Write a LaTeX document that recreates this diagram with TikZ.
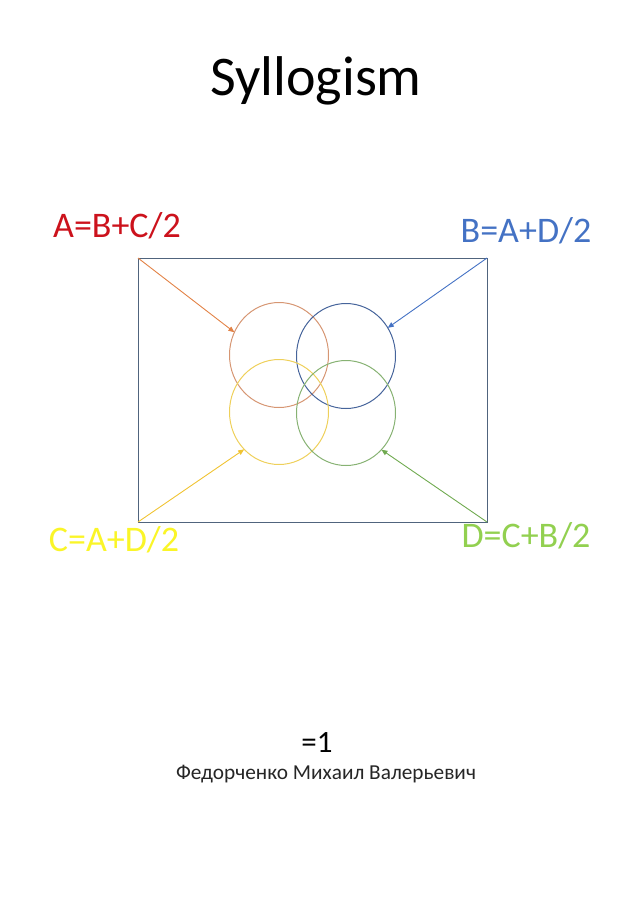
\documentclass[tikz,border=0pt]{standalone}
\usepackage{fontspec}
\setmainfont{Carlito}
\usetikzlibrary{arrows, arrows.meta, shapes.geometric}
\definecolor{fred}{RGB}{204,18,28}
\definecolor{fblue}{RGB}{68,114,196}
\definecolor{fyellow}{RGB}{250,245,40}
\definecolor{fgreen}{RGB}{146,208,80}
\definecolor{corange}{RGB}{214,150,115}
\definecolor{cblue}{RGB}{70,100,155}
\definecolor{cyellow}{RGB}{238,208,90}
\definecolor{cgreen}{RGB}{135,178,115}
\definecolor{aorange}{RGB}{226,130,70}
\definecolor{ayellow}{RGB}{240,195,50}
\definecolor{agreen}{RGB}{112,170,80}
\definecolor{frame}{RGB}{80,100,125}
\tikzset{
  ring/.style={ellipse, draw, line width=1pt, minimum width=99pt, minimum height=105pt, inner sep=0pt, outer sep=0pt},
  formula/.style={anchor=base, font=\fontsize{36}{40}\selectfont},
  pointer/.style={-{Triangle[length=6pt,width=5pt]}, line width=0.9pt}
}
\begin{document}
\begin{tikzpicture}[x=1pt, y=-1pt]
\useasboundingbox (0,0) rectangle (638,922);
\node[anchor=base, font=\fontsize{56}{62}\selectfont] (title) at (316,95) {Syllogism};
\draw[frame, line width=0.9pt] (138,258) rectangle (487,522);
\coordinate (tl) at (138,258);
\coordinate (tr) at (487,258);
\coordinate (bl) at (138,522);
\coordinate (br) at (487,522);
\node[ring, corange] (ca) at (279,355) {};
\node[ring, cblue] (cb) at (346,356) {};
\node[ring, cyellow] (cc) at (279,412) {};
\node[ring, cgreen] (cd) at (346,413) {};
\draw[pointer, aorange] (tl) -- (ca.153);
\draw[pointer, fblue] (tr) -- (cb.34);
\draw[pointer, ayellow] (bl) -- (cc.227);
\draw[pointer, agreen] (br) -- (cd.314);
\node[formula, fred] (fa) at (117,237) {A=B+C/2};
\node[formula, fblue] (fb) at (526,242) {B=A+D/2};
\node[formula, fyellow] (fc) at (114,551) {C=A+D/2};
\node[formula, fgreen] (fd) at (526,547) {D=C+B/2};
\node[anchor=base, font=\fontsize{31}{34}\selectfont] (one) at (317,752) {=1};
\node[anchor=base, font=\fontsize{21.3}{25}\selectfont, text=black!85] (author) at (326,779) {Федорченко Михаил Валерьевич};
\end{tikzpicture}
\end{document}
